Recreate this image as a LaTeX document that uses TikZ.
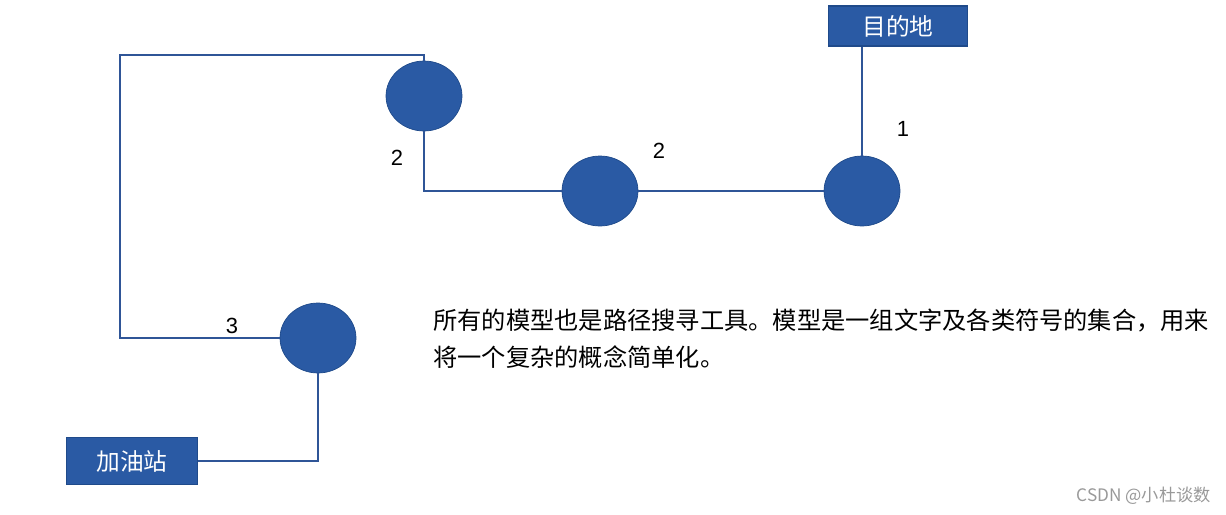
\documentclass[tikz,border=0pt]{standalone}
\usepackage{fontspec}
\setmainfont{Liberation Sans}
\newfontfamily\cjk{Noto Sans CJK SC}
\usepackage{xcolor}
\usetikzlibrary{shapes.geometric}
\definecolor{nodeblue}{HTML}{2A5AA4}
\definecolor{edgeblue}{HTML}{1F4A8A}
\definecolor{lineblue}{HTML}{2F5597}

\begin{document}
\begin{tikzpicture}[x=0.02cm,y=-0.02cm,
  stop/.style={ellipse,fill=nodeblue,draw=edgeblue,line width=0.4pt,minimum width=1.52cm,minimum height=1.40cm,inner sep=0pt},
  place/.style={rectangle,fill=nodeblue,draw=edgeblue,line width=0.6pt,text=white,font=\cjk\fontsize{13.5}{15}\selectfont,inner sep=0pt},
  road/.style={draw=lineblue,line width=0.7pt},
  num/.style={font=\fontsize{12.5}{14}\selectfont}]
\useasboundingbox (0,0) rectangle (1226,514);
% places
\node[place,minimum width=2.78cm,minimum height=0.80cm] (goal) at (898,26) {目的地};
\node[place,minimum width=2.62cm,minimum height=0.94cm] (fuel) at (132,461) {加油站};
% stops
\node[stop] (a) at (424,96) {};
\node[stop] (b) at (600,191) {};
\node[stop] (c) at (862,191) {};
\node[stop] (d) at (318,338) {};
% roads
\draw[road] (a.north) |- (120,55) |- (d.west);
\draw[road] (a.south) |- (b.west);
\draw[road] (b.east) -- (c.west);
\draw[road] (c.north) -- (c.north |- goal.south);
\draw[road] (d.south) |- (fuel.east);
% distances
\node[num] (n3) at (232,326) {3};
\node[num] (n2a) at (397,158) {2};
\node[num] (n2b) at (659,151) {2};
\node[num] (n1) at (903,129) {1};
% text
\node[anchor=west,inner sep=0pt,font=\cjk\fontsize{13.8}{15}\selectfont] (t1) at (433,321) {所有的模型也是路径搜寻工具。模型是一组文字及各类符号的集合，用来};
\node[anchor=west,inner sep=0pt,font=\cjk\fontsize{13.8}{15}\selectfont] (t2) at (433,357) {将一个复杂的概念简单化。};
\node[anchor=east,inner sep=0pt,text=black!40,font=\cjk\fontsize{9.8}{11}\selectfont] (mark) at (1211,496) {CSDN @小杜谈数};
\end{tikzpicture}
\end{document}
